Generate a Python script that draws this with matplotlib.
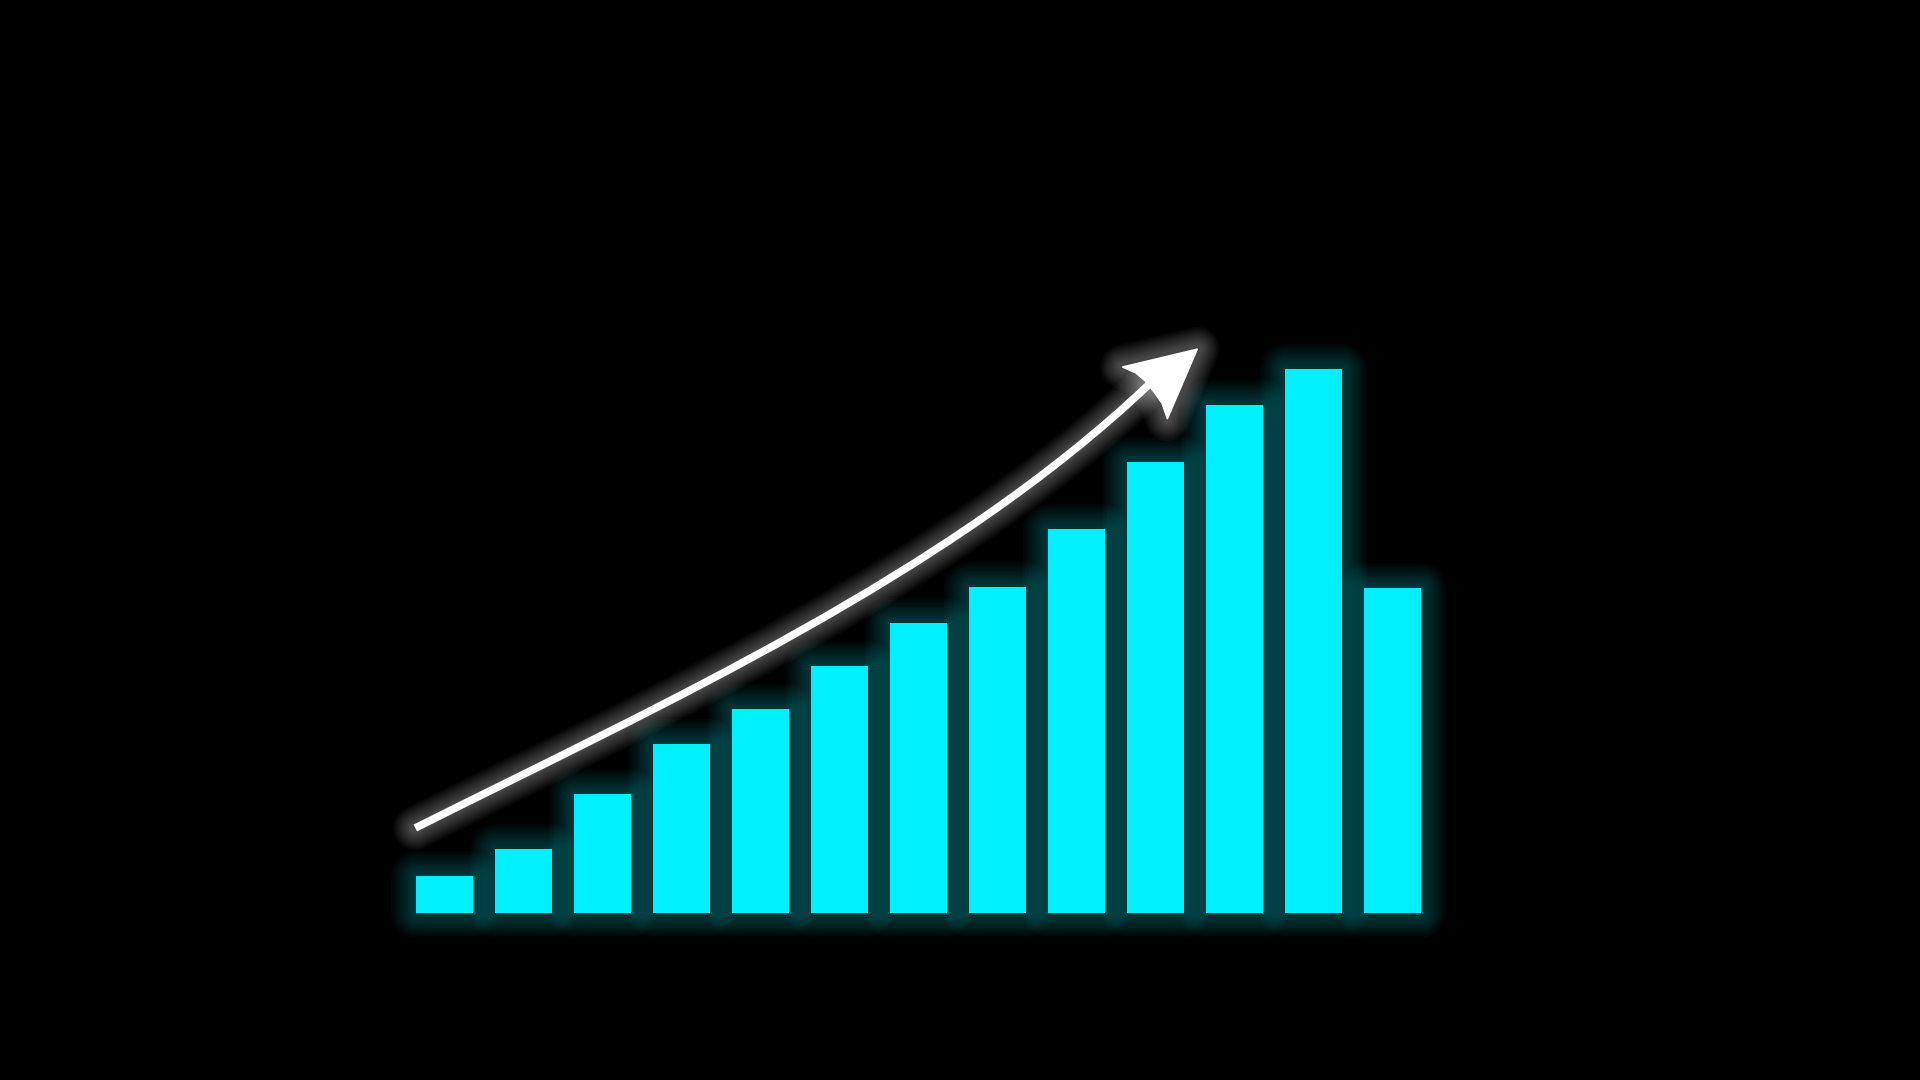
import numpy as np
import matplotlib
matplotlib.use("Agg")
import matplotlib.pyplot as plt
from matplotlib.patches import Polygon, PathPatch
from matplotlib.path import Path

# bar values (13 periods)
periods = list(range(13))
values = [3.7, 6.4, 11.9, 16.9, 20.4, 24.7, 29.0, 32.6, 38.4, 45.1, 50.8, 54.4, 32.5]

# trend arrow: cubic curve (start, two control points, end) in bar data units
trend_x = [-0.37, 2.79, 6.37, 8.91]
trend_y = [8.5, 21.0, 33.8, 52.8]

# arrow head outline: tip, left barb, notch, lower barb
head_x = [9.53, 8.58, 8.75, 8.87, 8.91, 8.98, 9.08, 9.15]
head_y = [56.4, 54.6, 54.0, 53.2, 52.8, 52.1, 51.0, 49.4]

cyan = "#00f0ff"

fig = plt.figure(figsize=(19.2, 10.8), dpi=100, facecolor="black")
ax = fig.add_axes([0, 0, 1, 1])
ax.set_facecolor("black")
ax.set_xlim(-5.627, 18.677)
ax.set_ylim(-16.7, 91.3)
ax.axis("off")

# soft glow behind the bars
for lw in np.arange(36, 2, -3):
    ax.bar(periods, values, width=0.73, color="none", edgecolor=cyan,
           linewidth=lw, alpha=0.022, joinstyle="round", zorder=1)
ax.bar(periods, values, width=0.73, color=cyan, linewidth=0, zorder=2)

curve = Path(np.column_stack([trend_x, trend_y]),
             [Path.MOVETO, Path.CURVE4, Path.CURVE4, Path.CURVE4])
head = np.column_stack([head_x, head_y])

# soft glow behind the arrow
for lw in np.arange(32, 6, -2.5):
    ax.add_patch(PathPatch(curve, facecolor="none", edgecolor="white", lw=lw,
                           alpha=0.03, capstyle="round", zorder=3))
    ax.add_patch(Polygon(head, closed=True, facecolor="none", edgecolor="white",
                         lw=lw, alpha=0.03, joinstyle="round", zorder=3))

ax.add_patch(PathPatch(curve, facecolor="none", edgecolor="white", lw=5.5,
                       capstyle="butt", zorder=4))
ax.add_patch(Polygon(head, closed=True, facecolor="white", edgecolor="white",
                     lw=1, zorder=4))

fig.savefig("out.png", dpi=100, facecolor="black")
